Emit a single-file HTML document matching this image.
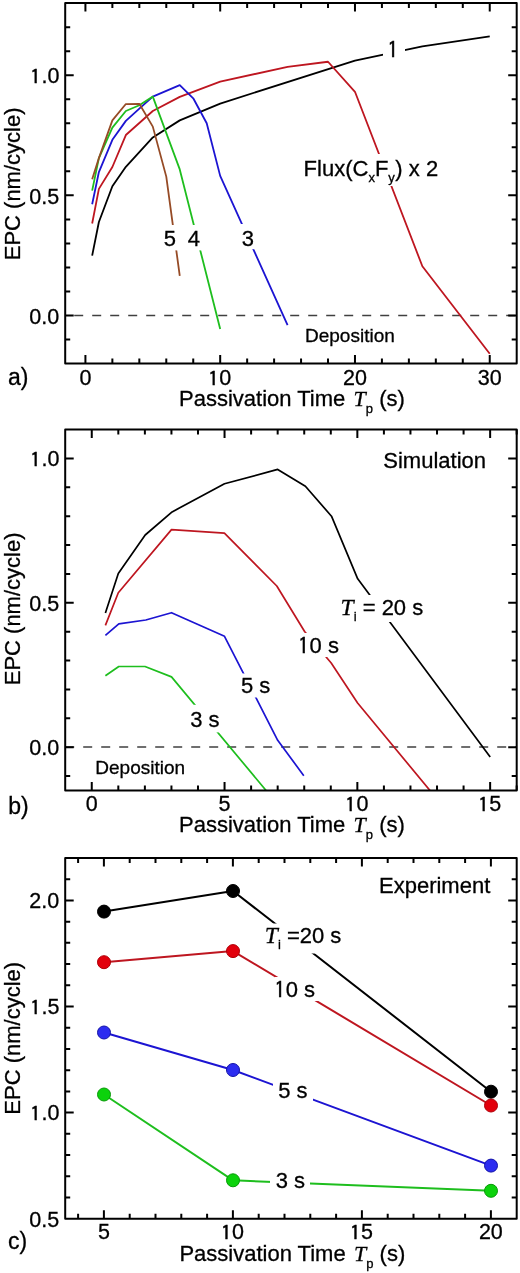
<!DOCTYPE html><html><head><meta charset="utf-8"><title>EPC vs Passivation Time</title><style>html,body{margin:0;padding:0;background:#fff;}svg{display:block;}</style></head><body>
<svg width="520" height="1273" viewBox="0 0 520 1273" font-family='"Liberation Sans", Arial, sans-serif'>
<rect width="520" height="1273" fill="#fff"/>
<line x1="65.2" y1="315.6" x2="516.7" y2="315.6" stroke="#404040" stroke-width="1.5" stroke-dasharray="9 9" stroke-dashoffset="9"/>
<polyline points="92.16,255.69 98.89,222.04 112.37,186.23 125.85,166.77 152.8,137.45 179.76,120.38 220.19,103.56 354.97,60.54 422.36,46.36 489.74,36.27" fill="none" stroke="#000" stroke-width="1.8" stroke-linejoin="round"/>
<polyline points="92.16,223.49 98.89,188.88 112.37,167.01 125.85,135.04 152.8,111.01 179.76,96.83 220.19,81.69 287.58,66.79 328.01,61.74 354.97,91.78 422.36,266.27 489.74,353.75" fill="none" stroke="#be1620" stroke-width="1.8" stroke-linejoin="round"/>
<polyline points="92.16,204.26 98.89,172.05 112.37,139.85 125.85,120.86 139.33,108.61 152.8,96.59 179.76,85.05 193.24,98.27 206.71,123.27 220.19,175.9 287.58,325.15" fill="none" stroke="#1c14d2" stroke-width="1.8" stroke-linejoin="round"/>
<polyline points="92.16,190.56 98.89,158.12 112.37,127.59 125.85,111.01 139.33,105.24 152.8,96.59 179.76,169.41 220.19,328.99" fill="none" stroke="#1ebe1e" stroke-width="1.8" stroke-linejoin="round"/>
<polyline points="92.16,179.26 98.89,158.12 112.37,120.38 125.85,104.04 139.33,103.8 152.8,126.63 166.28,176.62 179.76,275.88" fill="none" stroke="#964b26" stroke-width="1.8" stroke-linejoin="round"/>
<rect x="383" y="38" width="22" height="22" fill="#fff"/>
<text x="387.4" y="57.1" font-size="22" stroke="#000" stroke-width="0.3" ><tspan font-family="IPAGothic, 'Liberation Sans', sans-serif" font-size="0.96em" baseline-shift="-1.05" stroke="#000" stroke-width="0.5" letter-spacing="0.8">1</tspan></text>
<rect x="302" y="154" width="130" height="32" fill="#fff"/>
<text x="303.6" y="176" font-size="22" stroke="#000" stroke-width="0.3" >Flux(C<tspan font-size="13" dy="6.3">x</tspan><tspan dy="-6.3">F</tspan><tspan font-size="13" dy="6.3">y</tspan><tspan dy="-6.3" dx="0.5">)</tspan> x 2</text>
<rect x="162" y="225" width="40" height="25.4" fill="#fff"/>
<text x="163.8" y="245.9" font-size="22" stroke="#000" stroke-width="0.3" >5</text>
<text x="187.8" y="245.9" font-size="22" stroke="#000" stroke-width="0.3" >4</text>
<rect x="239" y="224" width="18" height="25.2" fill="#fff"/>
<text x="241.8" y="245.9" font-size="22" stroke="#000" stroke-width="0.3" >3</text>
<text x="305" y="341.6" font-size="19" stroke="#000" stroke-width="0.3" >Deposition</text>
<path d="M85.42 363.6V355.1M85.42 3.1V11.6M112.37 363.6V358.6M112.37 3.1V8.1M139.33 363.6V358.6M139.33 3.1V8.1M166.28 363.6V358.6M166.28 3.1V8.1M193.24 363.6V358.6M193.24 3.1V8.1M220.19 363.6V355.1M220.19 3.1V11.6M247.15 363.6V358.6M247.15 3.1V8.1M274.1 363.6V358.6M274.1 3.1V8.1M301.06 363.6V358.6M301.06 3.1V8.1M328.01 363.6V358.6M328.01 3.1V8.1M354.97 363.6V355.1M354.97 3.1V11.6M381.92 363.6V358.6M381.92 3.1V8.1M408.88 363.6V358.6M408.88 3.1V8.1M435.83 363.6V358.6M435.83 3.1V8.1M462.79 363.6V358.6M462.79 3.1V8.1M489.74 363.6V355.1M489.74 3.1V11.6M65.2 339.57H70.2M516.7 339.57H511.7M65.2 315.53H73.7M516.7 315.53H508.2M65.2 291.5H70.2M516.7 291.5H511.7M65.2 267.47H70.2M516.7 267.47H511.7M65.2 243.43H70.2M516.7 243.43H511.7M65.2 219.4H70.2M516.7 219.4H511.7M65.2 195.37H73.7M516.7 195.37H508.2M65.2 171.33H70.2M516.7 171.33H511.7M65.2 147.3H70.2M516.7 147.3H511.7M65.2 123.27H70.2M516.7 123.27H511.7M65.2 99.23H70.2M516.7 99.23H511.7M65.2 75.2H73.7M516.7 75.2H508.2M65.2 51.17H70.2M516.7 51.17H511.7M65.2 27.13H70.2M516.7 27.13H511.7" stroke="#000" stroke-width="2" fill="none"/>
<rect x="65.2" y="3.1" width="451.5" height="360.5" fill="none" stroke="#000" stroke-width="2" stroke-linejoin="round"/>
<text x="29.3" y="323.8" font-size="21.5" stroke="#000" stroke-width="0.3" >0.0</text>
<text x="29.3" y="203.8" font-size="21.5" stroke="#000" stroke-width="0.3" >0.5</text>
<text x="30.3" y="82.8" font-size="21.5" stroke="#000" stroke-width="0.3" ><tspan font-family="IPAGothic, 'Liberation Sans', sans-serif" font-size="0.96em" baseline-shift="-1.05" stroke="#000" stroke-width="0.5" letter-spacing="0.8">1</tspan>.0</text>
<text x="79.42" y="384.5" font-size="21.5" stroke="#000" stroke-width="0.3" >0</text>
<text x="208.19" y="384.5" font-size="21.5" stroke="#000" stroke-width="0.3" ><tspan font-family="IPAGothic, 'Liberation Sans', sans-serif" font-size="0.96em" baseline-shift="-1.05" stroke="#000" stroke-width="0.5" letter-spacing="0.8">1</tspan>0</text>
<text x="342.97" y="384.5" font-size="21.5" stroke="#000" stroke-width="0.3" >20</text>
<text x="477.74" y="384.5" font-size="21.5" stroke="#000" stroke-width="0.3" >30</text>
<text x="8" y="385.4" font-size="23" stroke="#000" stroke-width="0.3" >a)</text>
<clipPath id="cb"><rect x="65.2" y="429.5" width="451.5" height="361"/></clipPath>
<line x1="65.2" y1="747" x2="516.7" y2="747" stroke="#404040" stroke-width="1.5" stroke-dasharray="9 9"/>
<g clip-path="url(#cb)">
<polyline points="105.4,612.9 118.3,573.5 145.2,535 172.1,511.9 224.5,483.8 277.7,469.4 305.4,486.3 331.5,516.2 357.7,578.8 490.2,756.9" fill="none" stroke="#000" stroke-width="1.7" stroke-linejoin="round"/>
<polyline points="105.4,625.4 118.3,592.7 171.5,529.6 224.4,533.1 276.8,586 304.6,631.5 331.2,663 357.6,703 437,799" fill="none" stroke="#be1620" stroke-width="1.7" stroke-linejoin="round"/>
<polyline points="105.4,635.4 118.8,623.8 145.8,620 171.5,612.7 224.5,636.3 277.7,740.3 303.8,775.7" fill="none" stroke="#1c14d2" stroke-width="1.7" stroke-linejoin="round"/>
<polyline points="105.4,675.8 118.8,666.5 145,666.5 171.5,676.9 274,800" fill="none" stroke="#1ebe1e" stroke-width="1.7" stroke-linejoin="round"/>
</g>
<text x="383.3" y="467.8" font-size="22" stroke="#000" stroke-width="0.3" >Simulation</text>
<rect x="334" y="595" width="94" height="27" fill="#fff"/>
<text x="340.6" y="614.5" font-size="22" stroke="#000" stroke-width="0.3" ><tspan font-family='"Liberation Serif", "Times New Roman", serif' font-style="italic" font-size="23.5">T</tspan><tspan font-size="13" dy="6">i</tspan><tspan dy="-6"> = 20 s</tspan></text>
<rect x="297" y="633" width="45" height="24" fill="#fff"/>
<text x="298.2" y="652.9" font-size="22" stroke="#000" stroke-width="0.3" ><tspan font-family="IPAGothic, 'Liberation Sans', sans-serif" font-size="0.96em" baseline-shift="-1.05" stroke="#000" stroke-width="0.5" letter-spacing="0.8">1</tspan>0 s</text>
<rect x="240" y="673.5" width="32" height="24" fill="#fff"/>
<text x="241" y="692.8" font-size="22" stroke="#000" stroke-width="0.3" >5 s</text>
<rect x="189" y="704.8" width="31" height="27.6" fill="#fff"/>
<text x="190.2" y="727.3" font-size="22" stroke="#000" stroke-width="0.3" >3 s</text>
<text x="95.3" y="773.6" font-size="19" stroke="#000" stroke-width="0.3" >Deposition</text>
<path d="M91.76 790.5V782M91.76 429.5V438M118.32 790.5V785.5M118.32 429.5V434.5M144.88 790.5V785.5M144.88 429.5V434.5M171.44 790.5V785.5M171.44 429.5V434.5M197.99 790.5V785.5M197.99 429.5V434.5M224.55 790.5V782M224.55 429.5V438M251.11 790.5V785.5M251.11 429.5V434.5M277.67 790.5V785.5M277.67 429.5V434.5M304.23 790.5V785.5M304.23 429.5V434.5M330.79 790.5V785.5M330.79 429.5V434.5M357.35 790.5V782M357.35 429.5V438M383.91 790.5V785.5M383.91 429.5V434.5M410.46 790.5V785.5M410.46 429.5V434.5M437.02 790.5V785.5M437.02 429.5V434.5M463.58 790.5V785.5M463.58 429.5V434.5M490.14 790.5V782M490.14 429.5V438M516.7 790.5V785.5M516.7 429.5V434.5M65.2 776.06H70.2M516.7 776.06H511.7M65.2 747.18H73.7M516.7 747.18H508.2M65.2 718.3H70.2M516.7 718.3H511.7M65.2 689.42H70.2M516.7 689.42H511.7M65.2 660.54H70.2M516.7 660.54H511.7M65.2 631.66H70.2M516.7 631.66H511.7M65.2 602.78H73.7M516.7 602.78H508.2M65.2 573.9H70.2M516.7 573.9H511.7M65.2 545.02H70.2M516.7 545.02H511.7M65.2 516.14H70.2M516.7 516.14H511.7M65.2 487.26H70.2M516.7 487.26H511.7M65.2 458.38H73.7M516.7 458.38H508.2" stroke="#000" stroke-width="2" fill="none"/>
<rect x="65.2" y="429.5" width="451.5" height="361" fill="none" stroke="#000" stroke-width="2" stroke-linejoin="round"/>
<text x="29.3" y="755.28" font-size="21.5" stroke="#000" stroke-width="0.3" >0.0</text>
<text x="29.3" y="610.88" font-size="21.5" stroke="#000" stroke-width="0.3" >0.5</text>
<text x="30.3" y="466.48" font-size="21.5" stroke="#000" stroke-width="0.3" ><tspan font-family="IPAGothic, 'Liberation Sans', sans-serif" font-size="0.96em" baseline-shift="-1.05" stroke="#000" stroke-width="0.5" letter-spacing="0.8">1</tspan>.0</text>
<text x="85.76" y="811.2" font-size="21.5" stroke="#000" stroke-width="0.3" >0</text>
<text x="218.55" y="811.2" font-size="21.5" stroke="#000" stroke-width="0.3" >5</text>
<text x="345.35" y="811.2" font-size="21.5" stroke="#000" stroke-width="0.3" ><tspan font-family="IPAGothic, 'Liberation Sans', sans-serif" font-size="0.96em" baseline-shift="-1.05" stroke="#000" stroke-width="0.5" letter-spacing="0.8">1</tspan>0</text>
<text x="478.14" y="811.2" font-size="21.5" stroke="#000" stroke-width="0.3" ><tspan font-family="IPAGothic, 'Liberation Sans', sans-serif" font-size="0.96em" baseline-shift="-1.05" stroke="#000" stroke-width="0.5" letter-spacing="0.8">1</tspan>5</text>
<text x="8.2" y="814.4" font-size="23" stroke="#000" stroke-width="0.3" >b)</text>
<polyline points="104,911.6 233,891 491,1091.7" fill="none" stroke="#000" stroke-width="2.0" stroke-linejoin="round"/>
<polyline points="104,962.2 233,951.1 491,1105.5" fill="none" stroke="#be1620" stroke-width="2.0" stroke-linejoin="round"/>
<polyline points="104,1032.5 233,1070 491,1165.6" fill="none" stroke="#1c14d2" stroke-width="2.0" stroke-linejoin="round"/>
<polyline points="104,1094.5 233,1180.3 491,1190.8" fill="none" stroke="#1ebe1e" stroke-width="2.0" stroke-linejoin="round"/>
<circle cx="104" cy="911.6" r="6.5" fill="#000" stroke="#000" stroke-width="1"/>
<circle cx="233" cy="891" r="6.5" fill="#000" stroke="#000" stroke-width="1"/>
<circle cx="491" cy="1091.7" r="6.5" fill="#000" stroke="#000" stroke-width="1"/>
<circle cx="104" cy="962.2" r="6.5" fill="#e2000c" stroke="#b00008" stroke-width="1"/>
<circle cx="233" cy="951.1" r="6.5" fill="#e2000c" stroke="#b00008" stroke-width="1"/>
<circle cx="491" cy="1105.5" r="6.5" fill="#e2000c" stroke="#b00008" stroke-width="1"/>
<circle cx="104" cy="1032.5" r="6.5" fill="#2c2cf0" stroke="#1414a8" stroke-width="1"/>
<circle cx="233" cy="1070" r="6.5" fill="#2c2cf0" stroke="#1414a8" stroke-width="1"/>
<circle cx="491" cy="1165.6" r="6.5" fill="#2c2cf0" stroke="#1414a8" stroke-width="1"/>
<circle cx="104" cy="1094.5" r="6.5" fill="#0cd20c" stroke="#089a08" stroke-width="1"/>
<circle cx="233" cy="1180.3" r="6.5" fill="#0cd20c" stroke="#089a08" stroke-width="1"/>
<circle cx="491" cy="1190.8" r="6.5" fill="#0cd20c" stroke="#089a08" stroke-width="1"/>
<text x="379" y="892.9" font-size="22" stroke="#000" stroke-width="0.3" >Experiment</text>
<rect x="262" y="923.5" width="80" height="30" fill="#fff"/>
<text x="264.8" y="942.9" font-size="22" stroke="#000" stroke-width="0.3" ><tspan font-family='"Liberation Serif", "Times New Roman", serif' font-style="italic" font-size="23.5">T</tspan><tspan font-size="13" dy="6">i</tspan><tspan dy="-6"> =20 s</tspan></text>
<rect x="275" y="977" width="44" height="24" fill="#fff"/>
<text x="274.4" y="996.6" font-size="22" stroke="#000" stroke-width="0.3" ><tspan font-family="IPAGothic, 'Liberation Sans', sans-serif" font-size="0.96em" baseline-shift="-1.05" stroke="#000" stroke-width="0.5" letter-spacing="0.8">1</tspan>0 s</text>
<rect x="273" y="1079.5" width="40" height="23.5" fill="#fff"/>
<text x="278.2" y="1097.9" font-size="22" stroke="#000" stroke-width="0.3" >5 s</text>
<rect x="270" y="1169.5" width="40" height="23.5" fill="#fff"/>
<text x="275.7" y="1188.3" font-size="22" stroke="#000" stroke-width="0.3" >3 s</text>
<path d="M78.1 1218.7V1213.7M78.1 858V863M103.9 1218.7V1210.2M103.9 858V866.5M129.7 1218.7V1213.7M129.7 858V863M155.5 1218.7V1213.7M155.5 858V863M181.3 1218.7V1213.7M181.3 858V863M207.1 1218.7V1213.7M207.1 858V863M232.9 1218.7V1210.2M232.9 858V866.5M258.7 1218.7V1213.7M258.7 858V863M284.5 1218.7V1213.7M284.5 858V863M310.3 1218.7V1213.7M310.3 858V863M336.1 1218.7V1213.7M336.1 858V863M361.9 1218.7V1210.2M361.9 858V866.5M387.7 1218.7V1213.7M387.7 858V863M413.5 1218.7V1213.7M413.5 858V863M439.3 1218.7V1213.7M439.3 858V863M465.1 1218.7V1213.7M465.1 858V863M490.9 1218.7V1210.2M490.9 858V866.5M65.2 1197.48H70.2M516.7 1197.48H511.7M65.2 1176.26H70.2M516.7 1176.26H511.7M65.2 1155.05H70.2M516.7 1155.05H511.7M65.2 1133.83H70.2M516.7 1133.83H511.7M65.2 1112.61H73.7M516.7 1112.61H508.2M65.2 1091.39H70.2M516.7 1091.39H511.7M65.2 1070.18H70.2M516.7 1070.18H511.7M65.2 1048.96H70.2M516.7 1048.96H511.7M65.2 1027.74H70.2M516.7 1027.74H511.7M65.2 1006.52H73.7M516.7 1006.52H508.2M65.2 985.31H70.2M516.7 985.31H511.7M65.2 964.09H70.2M516.7 964.09H511.7M65.2 942.87H70.2M516.7 942.87H511.7M65.2 921.65H70.2M516.7 921.65H511.7M65.2 900.44H73.7M516.7 900.44H508.2M65.2 879.22H70.2M516.7 879.22H511.7" stroke="#000" stroke-width="2" fill="none"/>
<rect x="65.2" y="858" width="451.5" height="360.7" fill="none" stroke="#000" stroke-width="2" stroke-linejoin="round"/>
<text x="29.3" y="1226.5" font-size="21.5" stroke="#000" stroke-width="0.3" >0.5</text>
<text x="30.3" y="1120.41" font-size="21.5" stroke="#000" stroke-width="0.3" ><tspan font-family="IPAGothic, 'Liberation Sans', sans-serif" font-size="0.96em" baseline-shift="-1.05" stroke="#000" stroke-width="0.5" letter-spacing="0.8">1</tspan>.0</text>
<text x="30.3" y="1014.32" font-size="21.5" stroke="#000" stroke-width="0.3" ><tspan font-family="IPAGothic, 'Liberation Sans', sans-serif" font-size="0.96em" baseline-shift="-1.05" stroke="#000" stroke-width="0.5" letter-spacing="0.8">1</tspan>.5</text>
<text x="29.3" y="908.24" font-size="21.5" stroke="#000" stroke-width="0.3" >2.0</text>
<text x="97.9" y="1238.8" font-size="21.5" stroke="#000" stroke-width="0.3" >5</text>
<text x="220.9" y="1238.8" font-size="21.5" stroke="#000" stroke-width="0.3" ><tspan font-family="IPAGothic, 'Liberation Sans', sans-serif" font-size="0.96em" baseline-shift="-1.05" stroke="#000" stroke-width="0.5" letter-spacing="0.8">1</tspan>0</text>
<text x="349.9" y="1238.8" font-size="21.5" stroke="#000" stroke-width="0.3" ><tspan font-family="IPAGothic, 'Liberation Sans', sans-serif" font-size="0.96em" baseline-shift="-1.05" stroke="#000" stroke-width="0.5" letter-spacing="0.8">1</tspan>5</text>
<text x="478.9" y="1238.8" font-size="21.5" stroke="#000" stroke-width="0.3" >20</text>
<text x="8" y="1249.4" font-size="23" stroke="#000" stroke-width="0.3" >c)</text>
<text x="179" y="406.2" font-size="22" stroke="#000" stroke-width="0.3" >Passivation Time <tspan font-family='"Liberation Serif", "Times New Roman", serif' font-style="italic" dx="2.2">T</tspan><tspan font-size="13" dy="7">p</tspan><tspan dy="-7"> (s)</tspan></text>
<text x="179" y="831.8" font-size="22" stroke="#000" stroke-width="0.3" >Passivation Time <tspan font-family='"Liberation Serif", "Times New Roman", serif' font-style="italic" dx="2.2">T</tspan><tspan font-size="13" dy="7">p</tspan><tspan dy="-7"> (s)</tspan></text>
<text x="179.4" y="1261.4" font-size="22" stroke="#000" stroke-width="0.3" >Passivation Time <tspan font-family='"Liberation Serif", "Times New Roman", serif' font-style="italic" dx="2.2">T</tspan><tspan font-size="13" dy="7">p</tspan><tspan dy="-7"> (s)</tspan></text>
<text transform="translate(19.6 183.9) rotate(-90)" font-size="22" text-anchor="middle" stroke="#000" stroke-width="0.3">EPC (nm/cycle)</text>
<text transform="translate(19.6 608.9) rotate(-90)" font-size="22" text-anchor="middle" stroke="#000" stroke-width="0.3">EPC (nm/cycle)</text>
<text transform="translate(19.6 1038.3) rotate(-90)" font-size="22" text-anchor="middle" stroke="#000" stroke-width="0.3">EPC (nm/cycle)</text>
</svg></body></html>
